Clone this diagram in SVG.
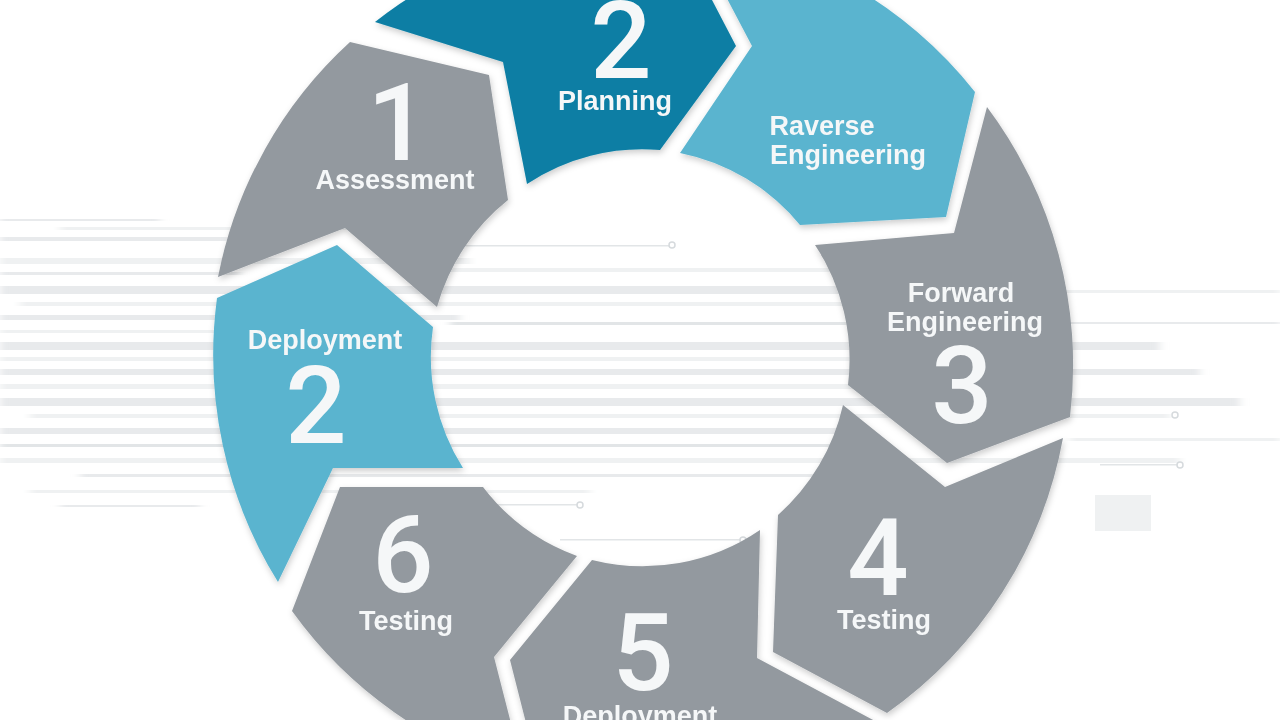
<svg xmlns="http://www.w3.org/2000/svg" width="1280" height="720" viewBox="0 0 1280 720">
  <defs>
    <filter id="sh" x="-10%" y="-10%" width="120%" height="120%">
      <feDropShadow dx="1" dy="3" stdDeviation="3" flood-color="#000" flood-opacity="0.2"/>
    </filter>
    <filter id="soft" x="-5%" y="-5%" width="110%" height="110%">
      <feGaussianBlur stdDeviation="4 0.7"/>
    </filter>
    <style>
      .gray { fill: #93999f; }
      .teal { fill: #0a7ea4; }
      .blue { fill: #5ab4cf; }
      .num { font-family: Roboto, "Liberation Sans", Arial, sans-serif; font-weight: 500; font-size: 108px; fill: #f5f7f8; text-anchor: middle; }
      .lbl { font-family: "Liberation Sans", Arial, sans-serif; font-weight: bold; font-size: 27px; fill: #f5f7f8; text-anchor: middle; }
      .st1 { fill: #e8eaec; }
      .st2 { fill: #eff1f2; }
      .st3 { fill: #e2e5e7; }
      .dot { fill: #ffffff; stroke: #d6dadd; stroke-width: 1.5; }
    </style>
  </defs>
  <rect x="0" y="0" width="1280" height="720" fill="#ffffff"/>
  <g id="background">
    <g filter="url(#soft)">
      <rect class="st1" x="0" y="219" width="160" height="2"/>
      <rect class="st2" x="60" y="227" width="400" height="3"/>
      <rect class="st1" x="0" y="237" width="230" height="4"/>
      <rect class="st2" x="0" y="258" width="470" height="6"/>
      <rect class="st1" x="0" y="272" width="240" height="3"/>
      <rect class="st2" x="440" y="268" width="420" height="4"/>
      <rect class="st1" x="0" y="286" width="900" height="8"/>
      <rect class="st2" x="20" y="302" width="840" height="4"/>
      <rect class="st1" x="0" y="315" width="460" height="5"/>
      <rect class="st3" x="450" y="322" width="400" height="3"/>
      <rect class="st2" x="0" y="330" width="240" height="3"/>
      <rect class="st1" x="0" y="342" width="1160" height="8"/>
      <rect class="st2" x="0" y="357" width="880" height="4"/>
      <rect class="st1" x="0" y="369" width="1200" height="6"/>
      <rect class="st2" x="0" y="384" width="860" height="5"/>
      <rect class="st1" x="0" y="398" width="1240" height="8"/>
      <rect class="st2" x="30" y="414" width="1140" height="4"/>
      <rect class="st1" x="0" y="428" width="860" height="6"/>
      <rect class="st3" x="0" y="444" width="840" height="3"/>
      <rect class="st2" x="0" y="458" width="1180" height="5"/>
      <rect class="st1" x="80" y="474" width="740" height="3"/>
      <rect class="st2" x="30" y="490" width="560" height="3"/>
      <rect class="st1" x="60" y="505" width="140" height="2"/>
      <rect class="st2" x="1050" y="290" width="230" height="3"/>
      <rect class="st1" x="1060" y="322" width="220" height="2"/>
      <rect class="st2" x="1070" y="438" width="210" height="3"/>
    </g>
    <rect class="st3" x="440" y="245" width="232" height="1.5"/>
    <rect class="st3" x="470" y="504" width="110" height="1.5"/>
    <rect class="st3" x="560" y="539" width="183" height="1.5"/>
    <rect class="st3" x="1100" y="464" width="80" height="1.5"/>
    <rect class="st2" x="1095" y="495" width="56" height="36"/>
    <circle class="dot" cx="672" cy="245" r="3"/>
    <circle class="dot" cx="580" cy="505" r="3"/>
    <circle class="dot" cx="743" cy="540" r="3"/>
    <circle class="dot" cx="1180" cy="465" r="3"/>
    <circle class="dot" cx="1175" cy="415" r="3"/>
  </g>
  <g id="connectors"/>
  <g id="seg-assessment" filter="url(#sh)">
    <path class="gray" d="M218,277 A430,430 0 0 1 350,42 L489,75 L508,200 A208,208 0 0 0 437,307 L345,228 Z"/>
    <text class="num" x="398" y="160">1</text>
    <text class="lbl" x="395" y="189">Assessment</text>
  </g>
  <g id="seg-planning" filter="url(#sh)">
    <path class="teal" d="M375,22 A430,430 0 0 1 676,-69 L736,46 L660,150 A208,208 0 0 0 527,184 L503,62 Z"/>
    <text class="num" x="621" y="78">2</text>
    <text class="lbl" x="615" y="110">Planning</text>
  </g>
  <g id="seg-reverse" filter="url(#sh)">
    <path class="blue" d="M692,-68 A430,430 0 0 1 975,92 L946,217 L800,225 A208,208 0 0 0 680,153 L752,46 Z"/>
    <text class="lbl" x="822" y="135">Raverse</text>
    <text class="lbl" x="848" y="164">Engineering</text>
  </g>
  <g id="seg-forward" filter="url(#sh)">
    <path class="gray" d="M987,107 A430,430 0 0 1 1070,417 L947,463 L848,385 A208,208 0 0 0 815,245 L954,233 Z"/>
    <text class="lbl" x="961" y="302">Forward</text>
    <text class="lbl" x="965" y="331">Engineering</text>
    <text class="num" x="962" y="423">3</text>
  </g>
  <g id="seg-testing4" filter="url(#sh)">
    <path class="gray" d="M1063,438 A430,430 0 0 1 887,713 L773,652 L778,515 A208,208 0 0 0 843,405 L945,487 Z"/>
    <text class="num" x="878" y="595">4</text>
    <text class="lbl" x="884" y="629">Testing</text>
  </g>
  <g id="seg-deployment5" filter="url(#sh)">
    <path class="gray" d="M875,721 A430,430 0 0 1 540,778 L510,660 L592,560 A208,208 0 0 0 760,530 L757,658 Z"/>
    <text class="num" x="643" y="690">5</text>
    <text class="lbl" x="640" y="725">Deployment</text>
  </g>
  <g id="seg-testing6" filter="url(#sh)">
    <path class="gray" d="M524,774 A430,430 0 0 1 292,611 L340,487 L483,487 A208,208 0 0 0 577,556 L494,657 Z"/>
    <text class="num" x="403" y="592">6</text>
    <text class="lbl" x="406" y="630">Testing</text>
  </g>
  <g id="seg-deployment2" filter="url(#sh)">
    <path class="blue" d="M278,582 A430,430 0 0 1 217,298 L337,245 L433,327 A208,208 0 0 0 463,468 L333,468 Z"/>
    <text class="lbl" x="325" y="349">Deployment</text>
    <text class="num" x="316" y="443">2</text>
  </g>
</svg>
